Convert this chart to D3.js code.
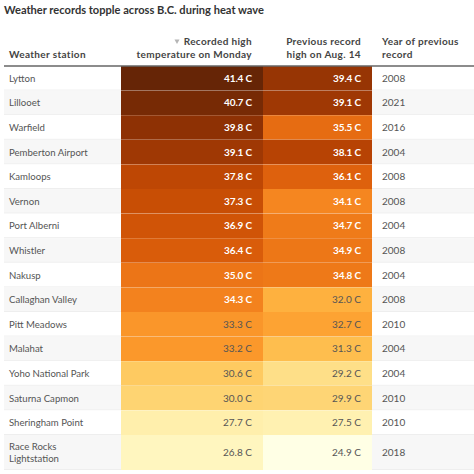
<!DOCTYPE html>
<html>
<head>
<meta charset="utf-8">
<script src="https://cdn.jsdelivr.net/npm/d3@7"></script>
<style>
  html, body { margin: 0; padding: 0; background: #fff; }
  svg { display: block; }
  text { font-family: Lato, sans-serif; }
</style>
</head>
<body>
<div id="chart"></div>
<script>
// table data
const stations = ["Lytton", "Lillooet", "Warfield", "Pemberton Airport", "Kamloops", "Vernon", "Port Alberni", "Whistler",
  "Nakusp", "Callaghan Valley", "Pitt Meadows", "Malahat", "Yoho National Park", "Saturna Capmon", "Sheringham Point", "Race Rocks\nLightstation"];
const recorded = [41.4, 40.7, 39.8, 39.1, 37.8, 37.3, 36.9, 36.4, 35.0, 34.3, 33.3, 33.2, 30.6, 30.0, 27.7, 26.8];
const previous = [39.4, 39.1, 35.5, 38.1, 36.1, 34.1, 34.7, 34.9, 34.8, 32.0, 32.7, 31.3, 29.2, 29.9, 27.5, 24.9];
const years = [2008, 2021, 2016, 2004, 2008, 2008, 2004, 2008, 2004, 2008, 2010, 2004, 2004, 2010, 2010, 2018];

const width = 474, height = 474;
const tableTop = 66, rowStep = 24.6, lastRowHeight = 35;
const bodySize = 10;

const svg = d3.select("#chart").append("svg")
  .attr("width", width)
  .attr("height", height);

const y = d3.scaleBand()
  .domain(d3.range(stations.length))
  .range([tableTop, tableTop + rowStep * stations.length])
  .padding(0);
const rowHeight = i => i === stations.length - 1 ? lastRowHeight : y.bandwidth();

const color = d3.scaleSequential(d3.interpolateYlOrBr)
  .domain([d3.min(previous), d3.max(recorded)]);

// title
svg.append("text")
  .attr("x", 4).attr("y", 14)
  .attr("font-size", 11.1).attr("font-weight", 700)
  .attr("fill", "#333")
  .text("Weather records topple across B.C. during heat wave");

// header
const headers = [
  { x: 9, anchor: "start", lines: ["", "Weather station"] },
  { x: 252, anchor: "end", lines: ["Recorded high", "temperature on Monday"] },
  { x: 361, anchor: "end", lines: ["Previous record", "high on Aug. 14"] },
  { x: 382, anchor: "start", lines: ["Year of previous", "record"] }
];
headers.forEach(h => {
  h.lines.forEach((line, i) => {
    svg.append("text")
      .attr("x", h.x).attr("y", 45 + i * 13)
      .attr("text-anchor", h.anchor)
      .attr("font-size", 10).attr("font-weight", 700)
      .attr("letter-spacing", 0.35)
      .attr("fill", "#444")
      .text(line);
  });
});

// sort arrow
svg.append("path")
  .attr("d", "M174.5,39.5 L179.5,39.5 L177,44 Z")
  .attr("fill", "#b5b5b5");

// rows
const rows = svg.append("g").selectAll("g")
  .data(stations)
  .join("g")
  .attr("transform", (d, i) => `translate(0,${y(i)})`);

rows.append("rect")
  .attr("x", 4).attr("width", width - 4)
  .attr("height", (d, i) => rowHeight(i))
  .attr("fill", (d, i) => i % 2 ? "#f7f7f7" : "#fff");

rows.append("line")
  .attr("x1", 4).attr("x2", width)
  .attr("y1", (d, i) => rowHeight(i) - 0.5).attr("y2", (d, i) => rowHeight(i) - 0.5)
  .attr("stroke", "#eee");

// heat cells
const columns = [
  { values: recorded, x: 121, w: 142, textX: 252 },
  { values: previous, x: 263, w: 109, textX: 361 }
];
columns.forEach(col => {
  rows.append("rect")
    .attr("x", col.x).attr("width", col.w)
    .attr("height", (d, i) => rowHeight(i))
    .attr("fill", (d, i) => color(col.values[i]));

  rows.append("text")
    .attr("x", col.textX)
    .attr("y", (d, i) => rowHeight(i) / 2 + 3.5)
    .attr("text-anchor", "end")
    .attr("font-size", bodySize)
    .attr("font-weight", (d, i) => col.values[i] > 33.5 ? 700 : 400)
    .attr("letter-spacing", (d, i) => col.values[i] > 33.5 ? -0.15 : 0)
    .attr("fill", (d, i) => col.values[i] > 33.5 ? "#fff" : "#555")
    .text((d, i) => col.values[i].toFixed(1) + " C");
});

// station names
rows.append("text")
  .attr("x", 9)
  .attr("font-size", 9.6)
  .attr("fill", "#555")
  .each(function (d, i) {
    const parts = d.split("\n");
    d3.select(this).selectAll("tspan")
      .data(parts)
      .join("tspan")
      .attr("x", 9)
      .attr("y", (p, j) => rowHeight(i) / 2 + 3.5 + (j - (parts.length - 1) / 2) * 11.5)
      .text(p => p);
  });

// years
rows.append("text")
  .attr("x", 382)
  .attr("y", (d, i) => rowHeight(i) / 2 + 3.5)
  .attr("font-size", bodySize)
  .attr("fill", "#555")
  .text((d, i) => years[i]);

// header rule
svg.append("line")
  .attr("x1", 4).attr("x2", width)
  .attr("y1", tableTop).attr("y2", tableTop)
  .attr("stroke", "#666").attr("stroke-width", 1.5);
</script>
</body>
</html>
